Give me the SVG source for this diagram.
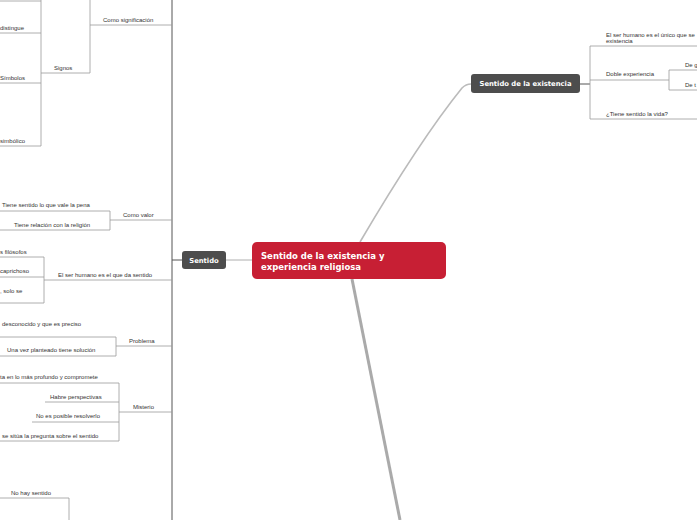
<svg xmlns="http://www.w3.org/2000/svg" width="697" height="520" viewBox="0 0 697 520">
<style>
text{font-family:"Liberation Sans",Arial,sans-serif;font-size:6px;fill:#333}
.l{stroke:#999;stroke-width:0.8;fill:none}
.d{stroke:#555;stroke-width:1;fill:none}
.n text{fill:#fff;font-weight:bold;font-family:"DejaVu Sans",sans-serif}
.big{font-size:8.5px}
.sm{font-size:6.8px}
</style>
<rect width="697" height="520" fill="#fff"/>
<g id="connectors">
<path class="d" d="M172 0V520M172 260H182"/>
<path class="l" d="M226 260H252" stroke-width="1.2"/>
<path d="M360 242 Q420 140 462 88 Q466 84 471 84" stroke="#bbb" stroke-width="1.6" fill="none"/>
<path d="M352 279 L400 520" stroke="#aaa" stroke-width="3" fill="none"/>
<path class="d" d="M580 84H590"/>
<path class="l" d="M90 25H172M90 0V73M41 73H90M41 0V146M0 1H41M0 33H41M0 83H41M0 146H41"/>
<path class="l" d="M110 220H172M110 211V230M0 211H110M0 230H110"/>
<path class="l" d="M44 280H172M44 257V303M0 257H44M0 277H44M0 303H44"/>
<path class="l" d="M116 346H172M116 337V356M0 337H116M0 356H116"/>
<path class="l" d="M119 412H172M119 383V441M0 383H119M45 402H119M32 422H119M0 441H119"/>
<path class="l" d="M0 498H69V520"/>
<path class="l" d="M590 46V119M590 46H697M590 80H669M669 70V90M669 70H697M669 90H697M590 119H697"/>
</g>
<g id="center" class="n"><rect x="252" y="242" width="194" height="37" rx="5" fill="#c71f34"/><text x="261" y="259" class="big">Sentido de la existencia y</text><text x="261" y="270" class="big">experiencia religiosa</text></g>
<g id="sentido" class="n"><rect x="182" y="251" width="44" height="18" rx="3" fill="#4d4d4d"/><text x="204" y="263" text-anchor="middle" class="sm">Sentido</text></g>
<g id="sentido-existencia" class="n"><rect x="471" y="74" width="109" height="19" rx="3" fill="#4d4d4d"/><text x="525.5" y="86" text-anchor="middle" class="sm">Sentido de la existencia</text></g>
<g id="labels">
<text x="103" y="22">Como significación</text>
<text x="54" y="70">Signos</text>
<text x="0" y="30">distingue</text>
<text x="0" y="80">Símbolos</text>
<text x="0" y="143">simbólico</text>
<text x="123" y="217">Como valor</text>
<text x="2" y="207">Tiene sentido lo que vale la pena</text>
<text x="14" y="227">Tiene relación con la religión</text>
<text x="58" y="277">El ser humano es el que da sentido</text>
<text x="0" y="254">s filósofos</text>
<text x="0" y="273">caprichoso</text>
<text x="0" y="293">, solo se</text>
<text x="129" y="343">Problema</text>
<text x="2" y="326">desconocido y que es preciso</text>
<text x="7" y="352">Una vez planteado tiene solución</text>
<text x="133" y="409">Misterio</text>
<text x="0" y="379">ta en lo más profundo y compromete</text>
<text x="50" y="399">Habre perspectivas</text>
<text x="36" y="418">No es posible resolverlo</text>
<text x="2" y="438">se sitúa la pregunta sobre el sentido</text>
<text x="11" y="495">No hay sentido</text>
<text x="606" y="37">El ser humano es el único que se</text>
<text x="606" y="43">existencia</text>
<text x="606" y="76">Doble experiencia</text>
<text x="685" y="67">De g</text>
<text x="685" y="87">De t</text>
<text x="606" y="116">¿Tiene sentido la vida?</text>
</g>
</svg>
